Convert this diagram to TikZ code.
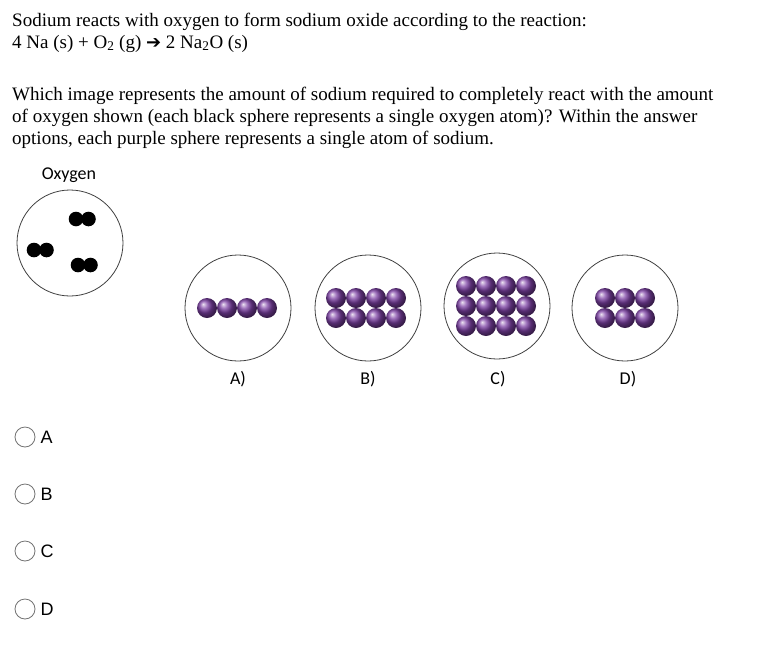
\documentclass[tikz,border=0pt]{standalone}
\usepackage{fontspec}
\setmainfont{Liberation Serif}
\newfontfamily\carlitofam{Carlito}
\newfontfamily\arsfam{Liberation Sans}
\definecolor{naP}{RGB}{125,65,165}
\begin{document}
\begin{tikzpicture}[x=1pt,y=-1pt,
  txt/.style={anchor=base west,inner sep=0pt,font=\fontsize{19}{22}\selectfont},
  ring/.style={draw=black!75,line width=0.8pt},
  ox/.style={fill=black},
  na/.style={ball color=naP,draw=none},
  lab/.style={font=\carlitofam\fontsize{18}{20}\selectfont},
  radio/.style={draw=black!55,line width=0.8pt,fill=white},
  opt/.style={anchor=west,font=\arsfam\fontsize{18}{20}\selectfont}]
\useasboundingbox (0,0) rectangle (769,654);
\node[txt] (t1) at (12,26) {Sodium reacts with oxygen to form sodium oxide according to the reaction:};
\node[txt] (t2) at (12,48) {4 Na (s) + O\textsubscript{2} (g) {\fontspec{DejaVu Sans}\fontsize{18}{20}\selectfont\bfseries ➔} 2 Na\textsubscript{2}O (s)};
\node[txt] (t3) at (12,100) {Which image represents the amount of sodium required to completely react with the amount};
\node[txt] (t4) at (12,122) {of oxygen shown (each black sphere represents a single oxygen atom)? Within the answer};
\node[txt] (t5) at (12,144) {options, each purple sphere represents a single atom of sodium.};
\node[lab] (ol) at (69,175) {Oxygen};
\node[ring,circle,minimum size=106pt] (oc) at (70,243) {};
\foreach \x/\y in {76/219,34/250,78/265}{
  \fill[ox] (\x,\y) circle (7.3); \fill[ox] (\x+12.5,\y) circle (7.3);}
\node[ring,circle,minimum size=106pt] (ca) at (238,308) {};
\node[ring,circle,minimum size=106pt] (cb) at (368,308) {};
\node[ring,circle,minimum size=106pt] (cc) at (497,306) {};
\node[ring,circle,minimum size=106pt] (cd) at (625,308) {};
\foreach \x in {0,1,2,3} \shade[na] (207+20*\x,308) circle (10);
\foreach \x in {0,1,2,3} \foreach \y in {0,1} \shade[na] (336+20*\x,298+20*\y) circle (10);
\foreach \x in {0,1,2,3} \foreach \y in {0,1,2} \shade[na] (466+20*\x,286+20*\y) circle (10);
\foreach \x in {0,1,2} \foreach \y in {0,1} \shade[na] (605+20*\x,298+20*\y) circle (10);
\node[lab] (la) at (238,379) {A)};
\node[lab] (lb) at (368,379) {B)};
\node[lab] (lc) at (498,379) {C)};
\node[lab] (ld) at (628,379) {D)};
\foreach \y/\l in {437/A,494/B,551/C,609/D}{
  \draw[radio] (25,\y) circle (10);
  \node[opt] at (37,\y) {\l};}
\end{tikzpicture}
\end{document}
